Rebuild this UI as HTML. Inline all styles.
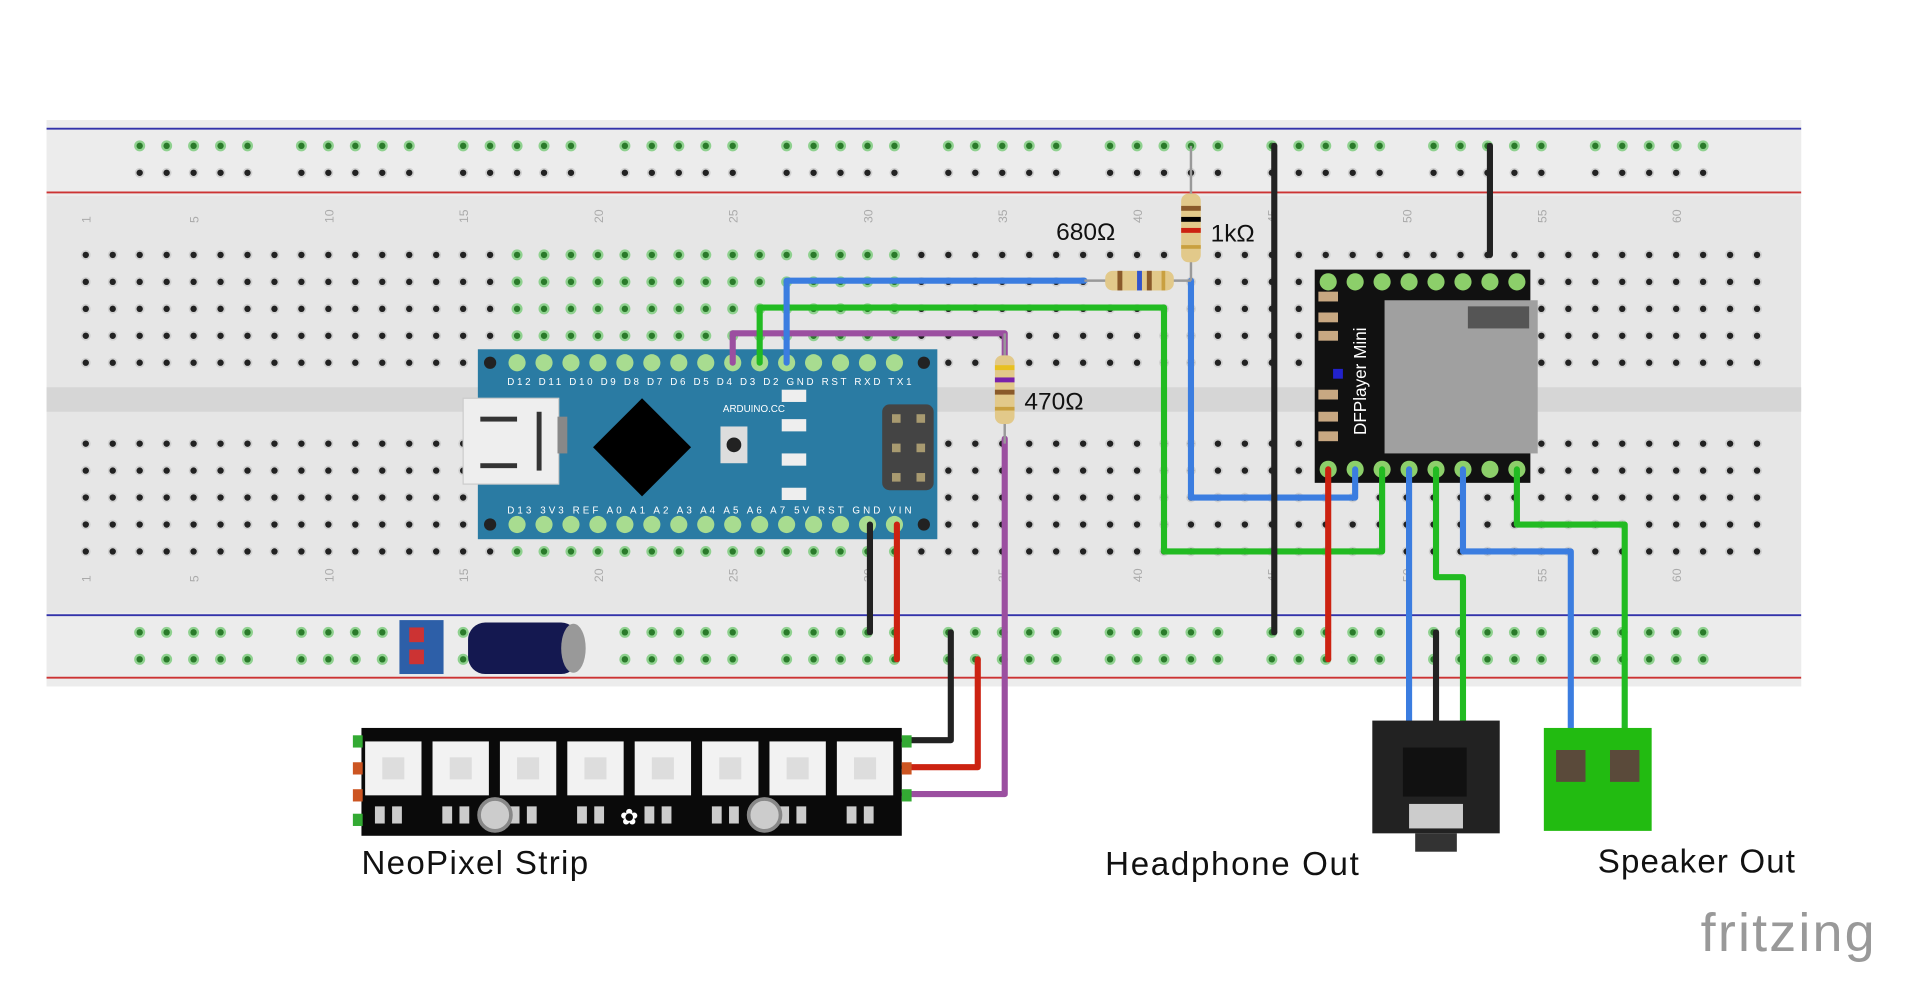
<!DOCTYPE html>
<html><head><meta charset="utf-8"><style>
html,body{margin:0;padding:0;background:#fff;width:1920px;height:1000px;overflow:hidden}
svg{display:block}
text{font-family:"Liberation Sans",sans-serif}
</style></head><body>
<svg id="s" width="1920" height="1000" viewBox="0 0 1567 816" preserveAspectRatio="none" xmlns="http://www.w3.org/2000/svg">
<rect x="0" y="0" width="1567" height="816" fill="#fff"/>
<rect x="38" y="98" width="1432" height="462" fill="#e6e6e6"/>
<rect x="38" y="98" width="1432" height="62" fill="#ececec"/>
<rect x="38" y="500" width="1432" height="60" fill="#ececec"/>
<rect x="38" y="316" width="1432" height="20" fill="#d6d6d6"/>
<line x1="38" y1="105" x2="1470" y2="105" stroke="#3333aa" stroke-width="1.5"/>
<line x1="38" y1="157" x2="1470" y2="157" stroke="#cc3333" stroke-width="1.5"/>
<line x1="38" y1="502" x2="1470" y2="502" stroke="#3333aa" stroke-width="1.5"/>
<line x1="38" y1="553" x2="1470" y2="553" stroke="#cc3333" stroke-width="1.5"/>
<g id="holes"></g>
<g id="nums" font-size="10" fill="#aaa"></g>

<rect x="390" y="285" width="375" height="155" fill="#2a7ba3"/>
<rect x="378" y="325" width="78" height="70" fill="#eee" stroke="#ccc"/>
<rect x="392" y="340" width="30" height="4" fill="#333"/><rect x="392" y="378" width="30" height="4" fill="#333"/>
<rect x="438" y="336" width="4" height="48" fill="#333"/>
<rect x="455" y="340" width="8" height="30" fill="#888"/>
<polygon points="524,325 564,365 524,405 484,365" fill="#000"/>
<rect x="588" y="348" width="22" height="30" fill="#ddd"/><circle cx="599" cy="363" r="6" fill="#222"/>
<rect x="638" y="318" width="20" height="10" fill="#eee"/><rect x="638" y="342" width="20" height="10" fill="#eee"/>
<rect x="638" y="370" width="20" height="10" fill="#eee"/><rect x="638" y="398" width="20" height="10" fill="#eee"/>
<rect x="720" y="330" width="42" height="70" rx="6" fill="#444"/>
<g fill="#a89a70"><rect x="728" y="338" width="7" height="7"/><rect x="748" y="338" width="7" height="7"/><rect x="728" y="362" width="7" height="7"/><rect x="748" y="362" width="7" height="7"/><rect x="728" y="386" width="7" height="7"/><rect x="748" y="386" width="7" height="7"/></g>
<g font-family="Liberation Mono" font-size="8" fill="#fff">
<text x="590" y="336">ARDUINO.CC</text>
<text x="414" y="314" textLength="330">D12 D11 D10 D9  D8  D7  D6  D5  D4  D3  D2  GND RST RXD TX1</text>
<text x="414" y="419" textLength="330">D13 3V3 REF A0  A1  A2  A3  A4  A5  A6  A7  5V  RST GND VIN</text>
</g>
<g id="npins"></g>

<rect x="1073" y="220" width="176" height="174" fill="#111"/>
<rect x="1130" y="245" width="125" height="125" fill="#a0a0a0"/>
<rect x="1198" y="250" width="50" height="18" fill="#555"/>
<text transform="translate(1115,355) rotate(-90)" font-size="14" fill="#fff">DFPlayer Mini</text>
<g fill="#c8a882"><rect x="1076" y="238" width="16" height="8"/><rect x="1076" y="255" width="16" height="8"/><rect x="1076" y="270" width="16" height="8"/><rect x="1076" y="318" width="16" height="8"/><rect x="1076" y="336" width="16" height="8"/><rect x="1076" y="352" width="16" height="8"/></g>
<rect x="1088" y="301" width="8" height="8" fill="#22c"/>
<g id="dpins"></g>

<g fill="none" stroke-width="5" stroke-linejoin="round" stroke-linecap="round">
<polyline points="598,296 598,272 820,272 820,290" stroke="#9b4fa0"/>
<polyline points="820,358 820,648 738,648" stroke="#9b4fa0"/>
<polyline points="620,296 620,251 950,251 950,450 1128,450 1128,383" stroke="#22bb22"/>
<polyline points="642,296 642,229 885,229" stroke="#3b7de0"/>
<polyline points="972,229 972,406 1106,406 1106,383" stroke="#3b7de0"/>
<polyline points="1040,119 1040,516" stroke="#222"/>
<polyline points="1216,119 1216,208" stroke="#222"/>
<polyline points="1084,383 1084,538" stroke="#cc2211"/>
<polyline points="710,428 710,516" stroke="#222"/>
<polyline points="732,428 732,538" stroke="#cc2211"/>
<polyline points="776,516 776,604 738,604" stroke="#222"/>
<polyline points="798,538 798,626 738,626" stroke="#cc2211"/>
<polyline points="1150,383 1150,604" stroke="#3b7de0"/>
<polyline points="1172,516 1172,650" stroke="#222"/>
<polyline points="1172,383 1172,471 1194,471 1194,604" stroke="#22bb22"/>
<polyline points="1194,383 1194,450 1282,450 1282,604" stroke="#3b7de0"/>
<polyline points="1238,383 1238,428 1326,428 1326,604" stroke="#22bb22"/>
</g>
<line x1="885" y1="229" x2="972" y2="229" stroke="#999" stroke-width="2"/>
<rect x="902" y="221" width="56" height="16" rx="6" fill="#e2c98a"/>
<g fill="#8a5a2a"><rect x="912" y="221" width="4" height="16"/><rect x="928" y="221" width="4" height="16" fill="#3355cc"/><rect x="936" y="221" width="4" height="16"/><rect x="948" y="221" width="3" height="16" fill="#c9a040"/></g>
<line x1="972" y1="119" x2="972" y2="229" stroke="#999" stroke-width="2"/>
<rect x="964" y="158" width="16" height="56" rx="6" fill="#e2c98a"/>
<g><rect x="964" y="168" width="16" height="4" fill="#8a5a2a"/><rect x="964" y="177" width="16" height="4" fill="#000"/><rect x="964" y="186" width="16" height="4" fill="#cc2211"/><rect x="964" y="200" width="16" height="3" fill="#c9a040"/></g>
<line x1="820" y1="272" x2="820" y2="362" stroke="#999" stroke-width="2"/>
<rect x="812" y="290" width="16" height="56" rx="6" fill="#e2c98a"/>
<g><rect x="812" y="298" width="16" height="4" fill="#e8c020"/><rect x="812" y="308" width="16" height="4" fill="#7a22aa"/><rect x="812" y="318" width="16" height="4" fill="#8a5a2a"/><rect x="812" y="332" width="16" height="3" fill="#c9a040"/></g>
<g font-size="20" fill="#111"><text x="862" y="196">680Ω</text><text x="988" y="197">1kΩ</text><text x="836" y="334">470Ω</text></g>

<rect x="326" y="506" width="36" height="44" fill="#2d5fa8"/>
<rect x="334" y="512" width="12" height="12" fill="#c33"/><rect x="334" y="530" width="12" height="12" fill="#c33"/>
<rect x="382" y="508" width="90" height="42" rx="14" fill="#141850"/>
<ellipse cx="468" cy="529" rx="10" ry="20" fill="#999"/>

<rect x="295" y="594" width="441" height="88" fill="#0a0a0a"/>
<g id="leds"></g>
<g fill="#3a3"><rect x="288" y="600" width="8" height="10"/><rect x="288" y="664" width="8" height="10"/><rect x="736" y="600" width="8" height="10"/><rect x="736" y="644" width="8" height="10"/></g>
<g fill="#c52"><rect x="288" y="622" width="8" height="10"/><rect x="288" y="644" width="8" height="10"/><rect x="736" y="622" width="8" height="10"/></g>
<circle cx="404" cy="665" r="13" fill="#ccc" stroke="#888" stroke-width="3"/>
<circle cx="624" cy="665" r="13" fill="#ccc" stroke="#888" stroke-width="3"/>
<text x="506" y="673" font-size="18" fill="#fff">✿</text>

<rect x="1120" y="588" width="104" height="92" fill="#222"/>
<rect x="1145" y="610" width="52" height="40" fill="#111"/>
<rect x="1150" y="656" width="44" height="20" fill="#ccc"/>
<rect x="1155" y="680" width="34" height="15" fill="#333"/>
<rect x="1260" y="594" width="88" height="84" fill="#22bb11"/>
<rect x="1270" y="612" width="24" height="26" fill="#5a4a3a"/><rect x="1314" y="612" width="24" height="26" fill="#5a4a3a"/>

<g font-size="27" fill="#111"><text x="295" y="713" textLength="185">NeoPixel Strip</text><text x="902" y="714" textLength="207">Headphone Out</text><text x="1304" y="712" textLength="161">Speaker Out</text></g>
<text x="1388" y="776" font-size="44" fill="#999" textLength="142">fritzing</text>
</svg>
<script>
var NS="http://www.w3.org/2000/svg";
function el(p,t,a){var e=document.createElementNS(NS,t);for(var k in a)e.setAttribute(k,a[k]);document.getElementById(p).appendChild(e);return e;}
function hole(x,y,g){el("holes","circle",{cx:x,cy:y,r:g?4.5:4,fill:g?"#8fd18f":"#d0d0d0"});el("holes","circle",{cx:x,cy:y,r:2.6,fill:g?"#2a7a2a":"#222"});}
for(var gi=0;gi<10;gi++)for(var i=0;i<5;i++){var x=114+gi*132+i*22;hole(x,119,true);hole(x,141,false);hole(x,516,true);hole(x,538,true);}
var rows=[208,230,252,274,296,362,384,406,428,450];
for(var c=0;c<63;c++){var x=70+c*22;for(var r=0;r<10;r++){var g=(c>=16&&c<=30);hole(x,rows[r],g);}}
for(var c=1;c<=63;c++){if(c==1||c%5==0){var x=70+(c-1)*22;[185,478].forEach(function(y){var t=el("nums","text",{x:x+3,y:y+4,transform:"rotate(-90 "+x+" "+y+")","font-size":"10"});t.textContent=c;});}}
for(var i=0;i<15;i++){var x=422+i*22;[296,428].forEach(function(y){el("npins","circle",{cx:x,cy:y,r:7,fill:"#a8dc90"});});}
el("npins","circle",{cx:400,cy:296,r:5,fill:"#222"});el("npins","circle",{cx:754,cy:296,r:5,fill:"#222"});
el("npins","circle",{cx:400,cy:428,r:5,fill:"#222"});el("npins","circle",{cx:754,cy:428,r:5,fill:"#222"});
for(var i=0;i<8;i++){var x=1084+i*22;el("dpins","circle",{cx:x,cy:230,r:7,fill:"#8ccf6a"});el("dpins","circle",{cx:x,cy:383,r:7,fill:"#8ccf6a"});}
for(var i=0;i<8;i++){var x=298+i*55;el("leds","rect",{x:x,y:605,width:46,height:44,fill:"#f2f2f2"});el("leds","rect",{x:x+14,y:618,width:18,height:18,fill:"#ddd"});
el("leds","rect",{x:x+8,y:658,width:8,height:14,fill:"#ccc"});el("leds","rect",{x:x+22,y:658,width:8,height:14,fill:"#ccc"});}
</script>
</body></html>
